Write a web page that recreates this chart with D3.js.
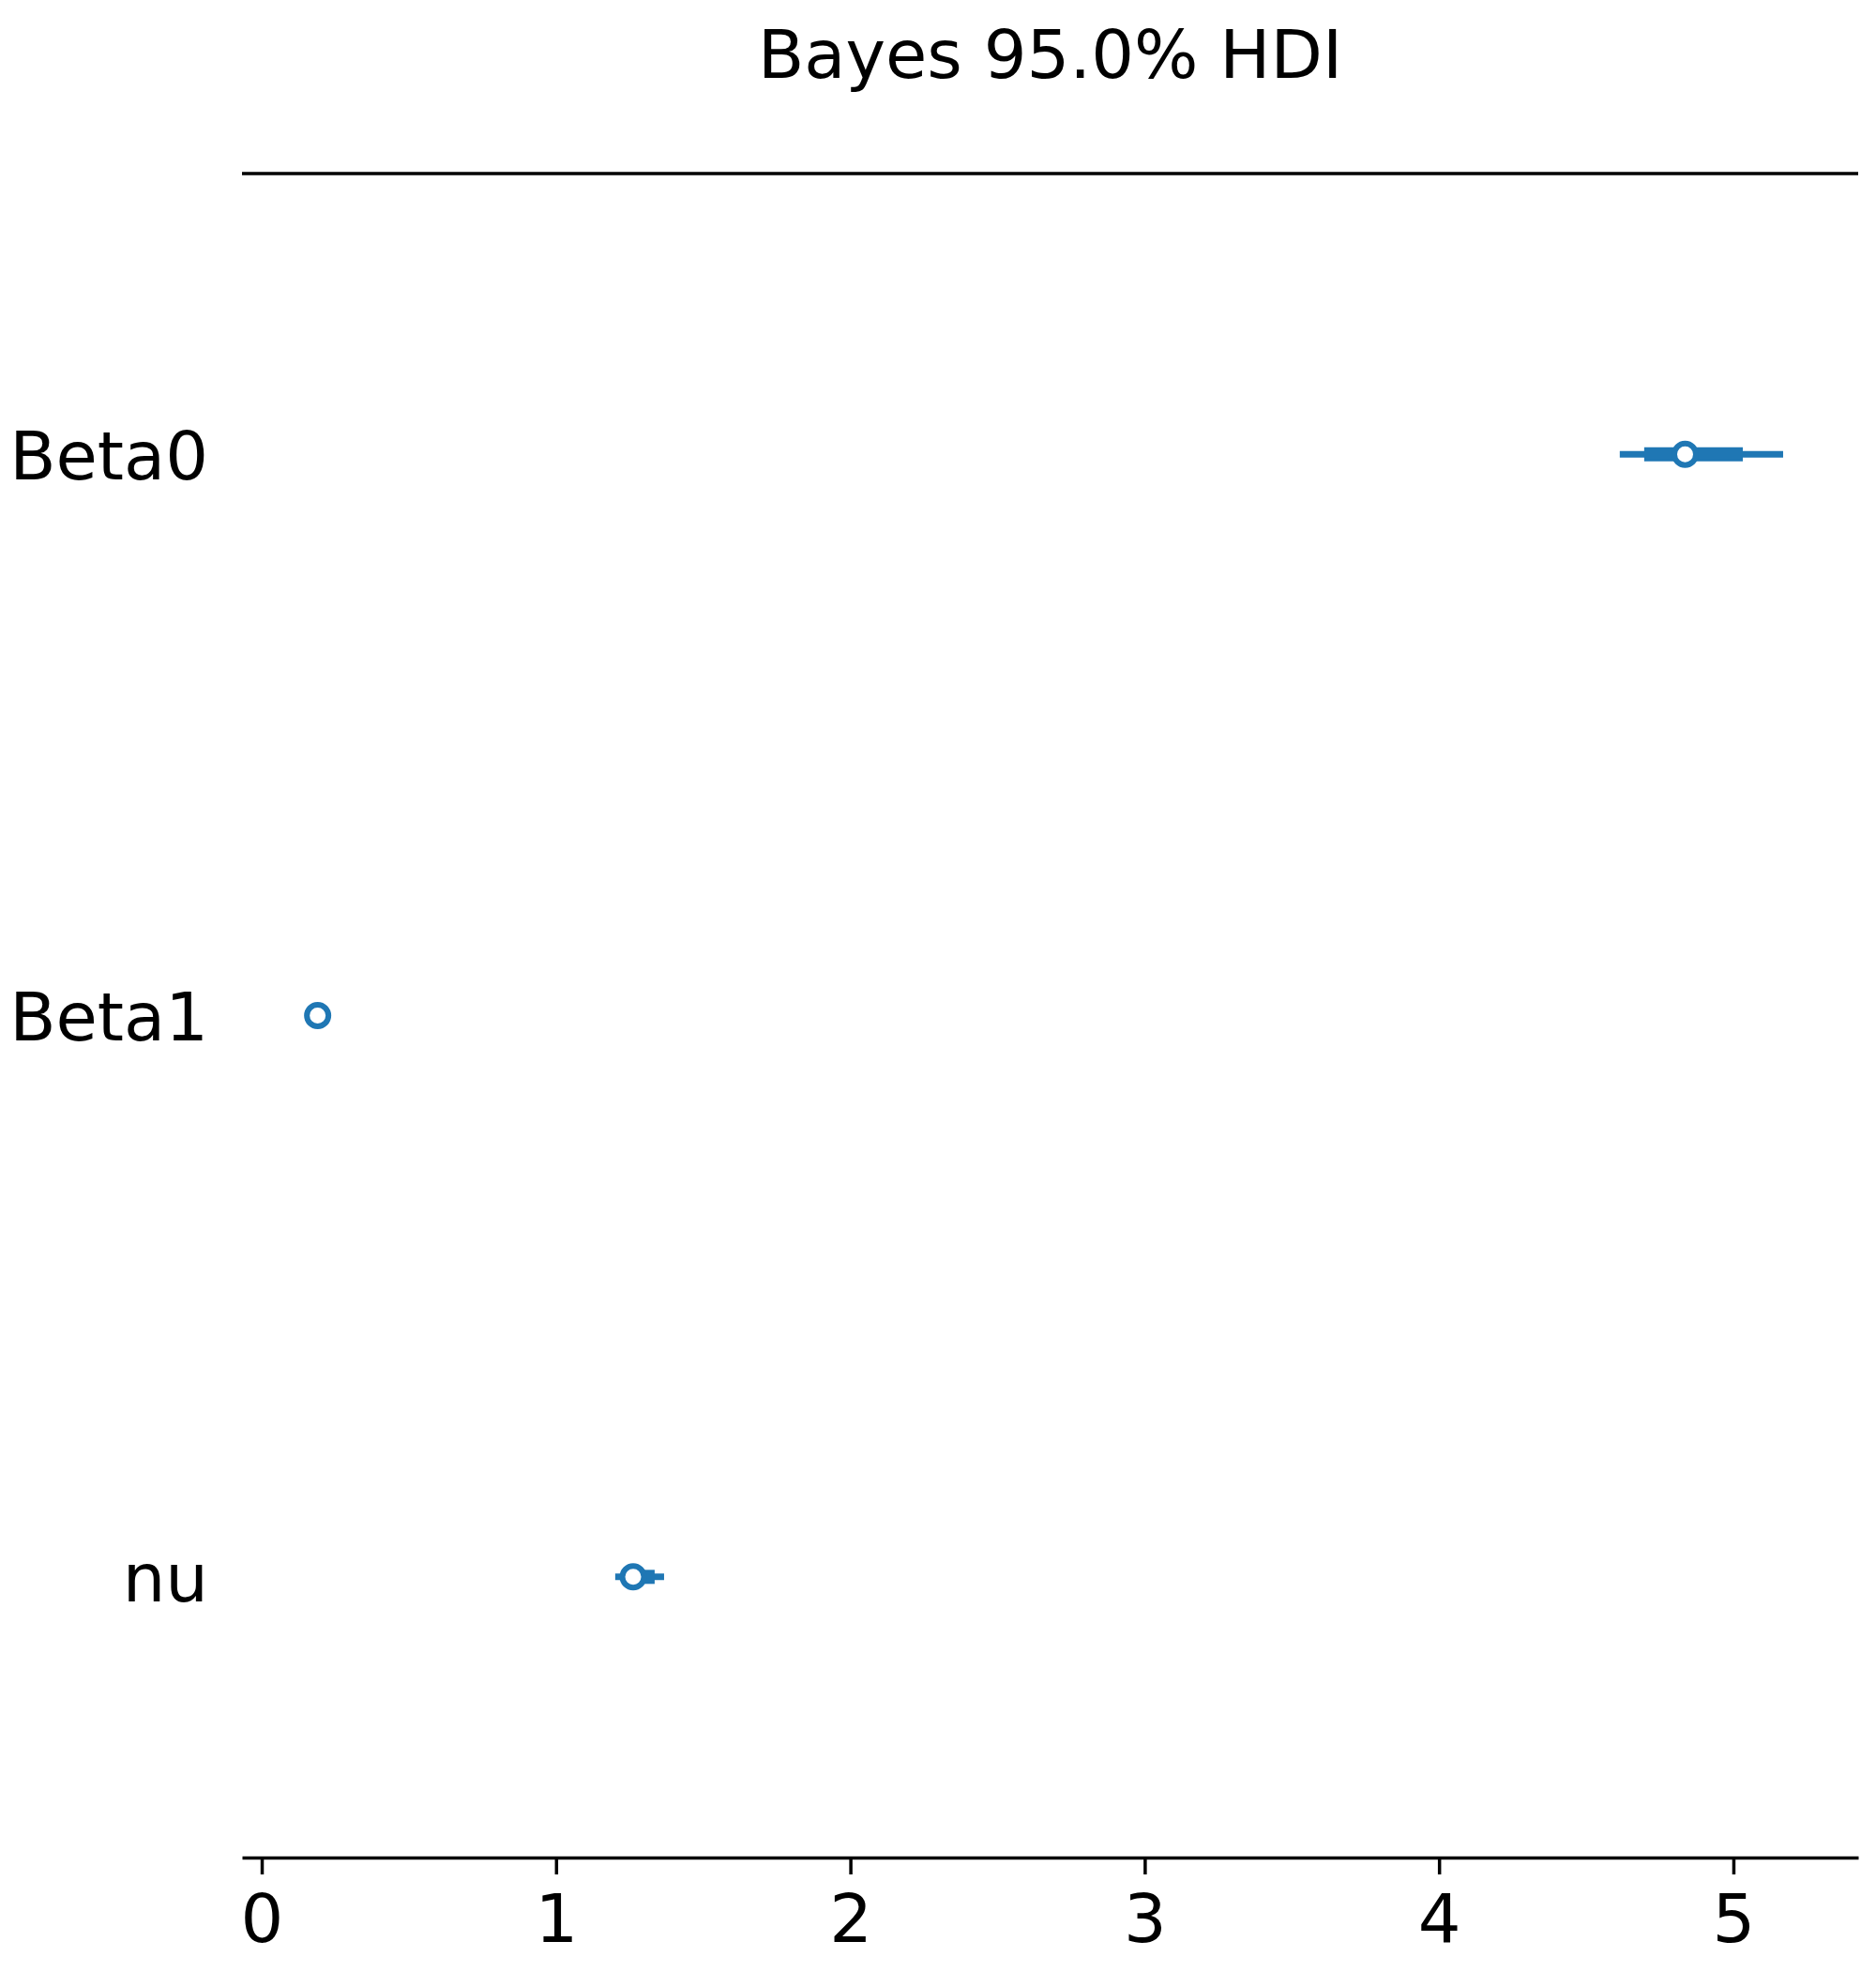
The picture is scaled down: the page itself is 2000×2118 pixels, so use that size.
<!DOCTYPE html>
<html>
<head>
<meta charset="utf-8">
<script src="https://cdn.jsdelivr.net/npm/d3@7/dist/d3.min.js"></script>
<style>
  html, body { margin: 0; padding: 0; background: #fff; }
  svg { display: block; }
  text { font-family: "DejaVu Sans", sans-serif; }
</style>
</head>
<body>
<svg id="chart" width="2000" height="2118"></svg>
<script>
// ---- data ----
const categories = ["Beta0", "Beta1", "nu"];
const medians    = [4.836, 0.190, 1.262];
const hdiLow     = [4.614, 0.188, 1.201];   // 95% HDI lower
const hdiHigh    = [5.169, 0.192, 1.367];   // 95% HDI upper
const iqrLow     = [4.697, 0.189, 1.235];   // inner (thick) interval lower
const iqrHigh    = [5.032, 0.191, 1.335];   // inner (thick) interval upper
const xTicks     = [0, 1, 2, 3, 4, 5];
const xDomain    = [-0.067, 5.424];
const titleText  = "Bayes 95.0% HDI";

const rows = categories.map((c, i) => ({
  name: c, med: medians[i], lo: hdiLow[i], hi: hdiHigh[i], qlo: iqrLow[i], qhi: iqrHigh[i]
}));

// ---- layout ----
const svg = d3.select("#chart");
const mLeft = 258, mRight = 1981, mTop = 185, mBottom = 1980;
const blue = "#1f77b4";
const fontSize = 72;

const x = d3.scaleLinear().domain(xDomain).range([mLeft, mRight]);
const y = d3.scalePoint().domain(categories).range([mTop, mBottom]).padding(0.5);

// title
svg.append("text")
  .attr("x", (mLeft + mRight) / 2)
  .attr("y", 83)
  .attr("text-anchor", "middle")
  .attr("font-size", fontSize)
  .attr("fill", "#000")
  .text(titleText);

// top spine
svg.append("line")
  .attr("x1", mLeft).attr("x2", mRight)
  .attr("y1", mTop).attr("y2", mTop)
  .attr("stroke", "#000").attr("stroke-width", 3.5);

// bottom axis
const xAxis = d3.axisBottom(x).tickValues(xTicks).tickFormat(d3.format("d"))
  .tickSize(18).tickPadding(21).tickSizeOuter(0);
const gx = svg.append("g").attr("transform", `translate(0,${mBottom})`).call(xAxis);
gx.select(".domain").attr("stroke", "#000").attr("stroke-width", 3.5);
gx.selectAll(".tick line").attr("stroke", "#000").attr("stroke-width", 3.5);
gx.selectAll(".tick text")
  .attr("font-size", fontSize)
  .attr("font-family", "DejaVu Sans, sans-serif")
  .attr("fill", "#000");

// y labels (no ticks / spine)
svg.append("g").selectAll("text")
  .data(categories)
  .join("text")
  .attr("x", 222)
  .attr("y", d => y(d))
  .attr("dy", "0.37em")
  .attr("text-anchor", "end")
  .attr("font-size", fontSize)
  .attr("fill", "#000")
  .text(d => d);

// marks
const g = svg.append("g");
g.selectAll("line.hdi")
  .data(rows).join("line")
  .attr("class", "hdi")
  .attr("x1", d => x(d.lo)).attr("x2", d => x(d.hi))
  .attr("y1", d => y(d.name)).attr("y2", d => y(d.name))
  .attr("stroke", blue).attr("stroke-width", 7);

g.selectAll("line.iqr")
  .data(rows).join("line")
  .attr("class", "iqr")
  .attr("x1", d => x(d.qlo)).attr("x2", d => x(d.qhi))
  .attr("y1", d => y(d.name)).attr("y2", d => y(d.name))
  .attr("stroke", blue).attr("stroke-width", 15);

g.selectAll("circle.med")
  .data(rows).join("circle")
  .attr("class", "med")
  .attr("cx", d => x(d.med))
  .attr("cy", d => y(d.name))
  .attr("r", 11.5)
  .attr("fill", "#fff")
  .attr("stroke", blue)
  .attr("stroke-width", 6);
</script>
</body>
</html>
